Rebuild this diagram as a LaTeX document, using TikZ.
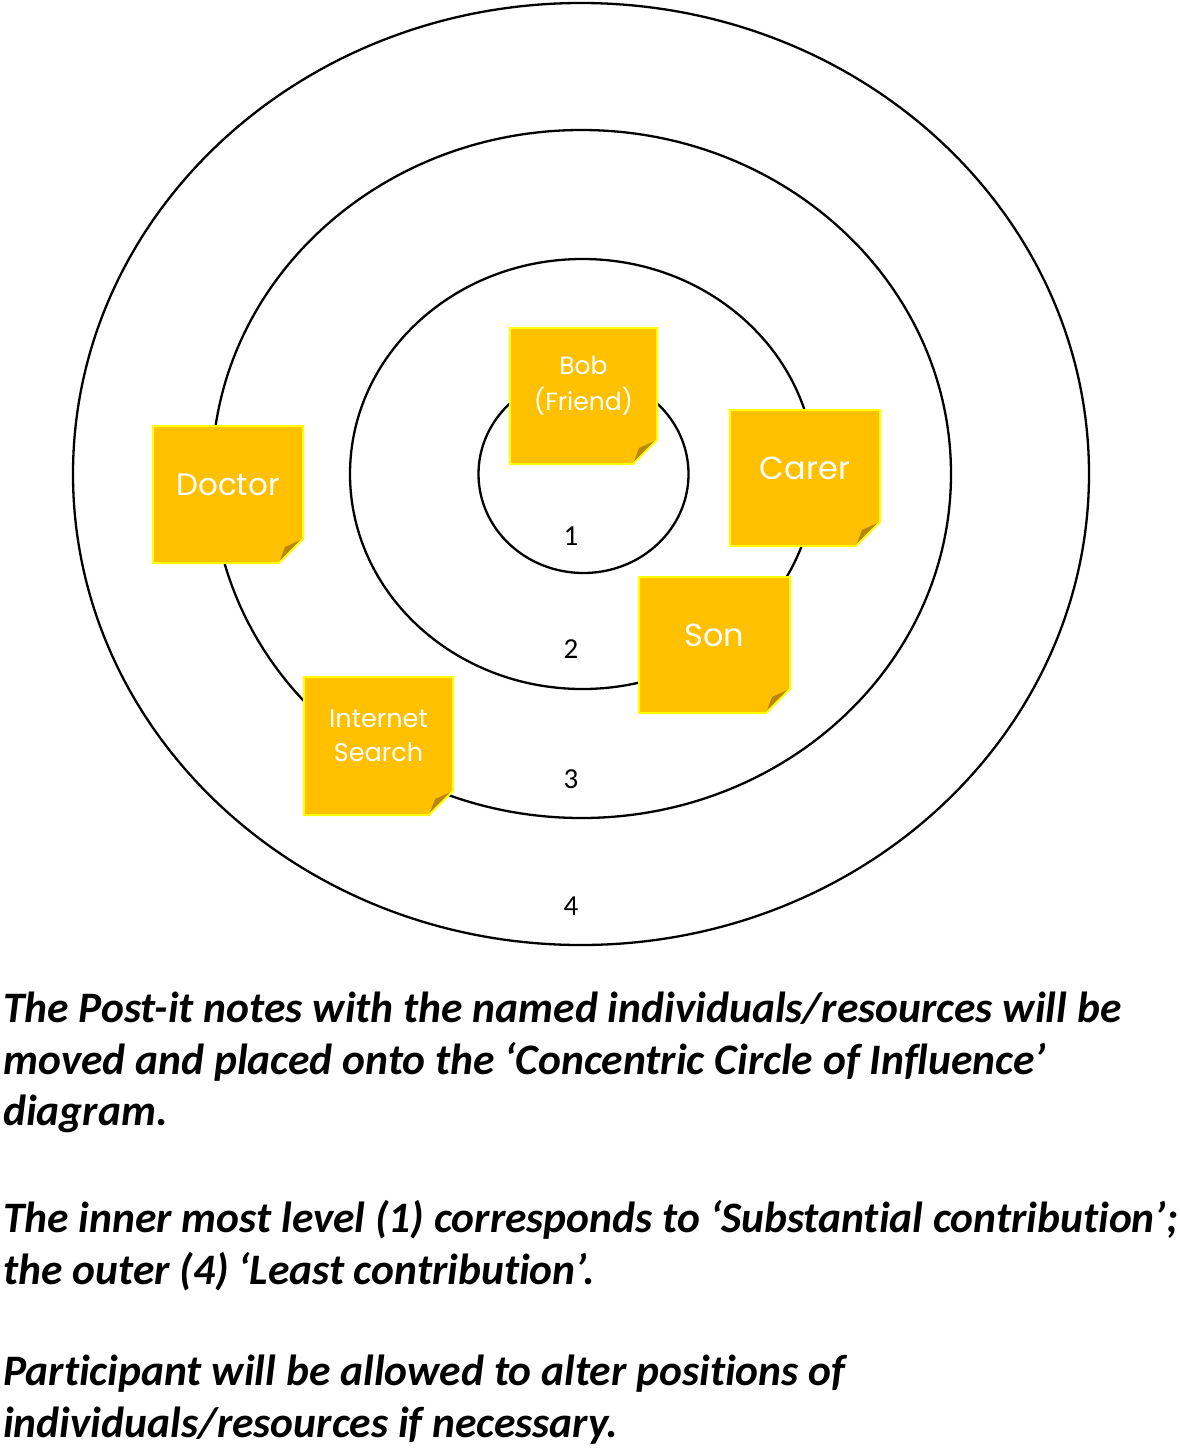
\documentclass[tikz,border=0pt]{standalone}
\usepackage{fontspec}
\setmainfont[Ligatures=NoCommon]{Carlito}
\newfontfamily\postitfont{Poppins}
\definecolor{notefill}{HTML}{FFC000}
\definecolor{noteedge}{HTML}{FFFF00}
\definecolor{notefold}{HTML}{B8860B}
% #1 name, #2 x1, #3 y1, #4 x2, #5 y2, #6 font size, #7 line skip, #8 text
\newcommand\PostIt[8]{%
  \fill[notefill] (#2,#3) -- (#4,#3) -- (#4,{#5-24}) -- ({#4-24},#5) -- (#2,#5) -- cycle;
  \fill[notefold] (#4,{#5-24}) -- ({#4-24},#5) -- ({#4-18},{#5-16}) -- cycle;
  \draw[noteedge, line width=2pt, line join=miter] (#2,#3) -- (#4,#3) -- (#4,{#5-24}) -- ({#4-24},#5) -- (#2,#5) -- cycle;
  \node[notetext, font=\postitfont\fontsize{#6}{#7}\selectfont] (#1) at ({(#2+#4)/2},{(#3+#5)/2-10}) {#8};
}
\begin{document}
\begin{tikzpicture}[x=1pt,y=-1pt,
  ring/.style={draw=black, line width=2.3pt},
  notetext/.style={text=white, align=center, inner sep=0pt},
  level/.style={font=\fontsize{29}{30}\selectfont, inner sep=0pt},
  caption/.style={font=\fontsize{43.5}{51}\selectfont\bfseries\itshape, anchor=base west, inner sep=0pt}]
\useasboundingbox (0,0) rectangle (1180,1448);
% rings
\draw[ring] (581,474) ellipse [x radius=508, y radius=471];
\draw[ring] (581.5,474) ellipse [x radius=369.5, y radius=344];
\draw[ring] (582.5,474) ellipse [x radius=232.5, y radius=215];
\draw[ring] (583.5,474) ellipse [x radius=105, y radius=99];
% level numbers
\node[level] (l1) at (571,536) {1};
\node[level] (l2) at (571,649) {2};
\node[level] (l3) at (571,779) {3};
\node[level] (l4) at (571,906) {4};
% post-it notes
\PostIt{bob}{510}{328}{657}{464}{25}{36}{Bob\\(Friend)}
\PostIt{doctor}{153}{426}{303}{563}{31}{34}{Doctor}
\PostIt{carer}{730}{410}{880}{546}{32}{34}{Carer}
\PostIt{son}{639}{577}{790}{713}{32}{34}{Son}
\PostIt{internet}{304}{677}{453}{815}{25.5}{34}{Internet\\Search}
% caption
\node[caption] (c1) at (3,1022) {The Post-it notes with the named individuals/resources will be};
\node[caption] (c2) at (3,1074) {moved and placed onto the ‘Concentric Circle of Influence’};
\node[caption] (c3) at (3,1125) {diagram.};
\node[caption] (c4) at (3,1232) {The inner most level (1) corresponds to ‘Substantial contribution’;};
\node[caption] (c5) at (3,1284) {the outer (4) ‘Least contribution’.};
\node[caption] (c6) at (3,1385) {Participant will be allowed to alter positions of};
\node[caption] (c7) at (3,1437) {individuals/resources if necessary.};
\end{tikzpicture}
\end{document}
